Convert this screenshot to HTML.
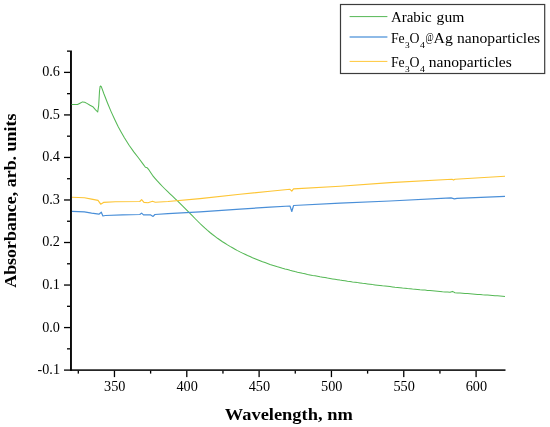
<!DOCTYPE html>
<html><head><meta charset="utf-8"><title>Absorbance spectra</title>
<style>
html,body{margin:0;padding:0;background:#fff;}
svg{display:block;}
text{font-family:"Liberation Serif","DejaVu Serif",serif;fill:#000;}
.tk{font-size:14.8px;}
.lg{font-size:14.5px;}
.sb{font-size:9.2px;}
.at{font-size:11.5px;}
.tt{font-size:15.8px;font-weight:bold;}
</style></head><body>
<svg width="550" height="427" viewBox="0 0 550 427">
<rect width="550" height="427" fill="#fff"/>
<rect x="70.05" y="50.5" width="1.85" height="320.3" fill="#000"/>
<rect x="70" y="369.35" width="435.5" height="1.5" fill="#000"/>
<rect x="64" y="369.45" width="6" height="1.3" fill="#000"/>
<text x="37.6" y="374.0" class="tk" textLength="22.4" lengthAdjust="spacingAndGlyphs">-0.1</text>
<rect x="67" y="348.19" width="3" height="1.3" fill="#000"/>
<rect x="64" y="326.92" width="6" height="1.3" fill="#000"/>
<text x="42.2" y="331.5" class="tk" textLength="17.8" lengthAdjust="spacingAndGlyphs">0.0</text>
<rect x="67" y="305.66" width="3" height="1.3" fill="#000"/>
<rect x="64" y="284.39" width="6" height="1.3" fill="#000"/>
<text x="42.2" y="288.9" class="tk" textLength="17.8" lengthAdjust="spacingAndGlyphs">0.1</text>
<rect x="67" y="263.13" width="3" height="1.3" fill="#000"/>
<rect x="64" y="241.86" width="6" height="1.3" fill="#000"/>
<text x="42.2" y="246.4" class="tk" textLength="17.8" lengthAdjust="spacingAndGlyphs">0.2</text>
<rect x="67" y="220.60" width="3" height="1.3" fill="#000"/>
<rect x="64" y="199.33" width="6" height="1.3" fill="#000"/>
<text x="42.2" y="203.9" class="tk" textLength="17.8" lengthAdjust="spacingAndGlyphs">0.3</text>
<rect x="67" y="178.07" width="3" height="1.3" fill="#000"/>
<rect x="64" y="156.80" width="6" height="1.3" fill="#000"/>
<text x="42.2" y="161.4" class="tk" textLength="17.8" lengthAdjust="spacingAndGlyphs">0.4</text>
<rect x="67" y="135.53" width="3" height="1.3" fill="#000"/>
<rect x="64" y="114.27" width="6" height="1.3" fill="#000"/>
<text x="42.2" y="118.8" class="tk" textLength="17.8" lengthAdjust="spacingAndGlyphs">0.5</text>
<rect x="67" y="93.01" width="3" height="1.3" fill="#000"/>
<rect x="64" y="71.74" width="6" height="1.3" fill="#000"/>
<text x="42.2" y="76.3" class="tk" textLength="17.8" lengthAdjust="spacingAndGlyphs">0.6</text>
<rect x="67" y="50.48" width="3" height="1.3" fill="#000"/>
<rect x="77.65" y="370.8" width="1.3" height="2.8" fill="#000"/>
<rect x="113.81" y="370.8" width="1.3" height="6.3" fill="#000"/>
<text x="104.1" y="391.25" class="tk" textLength="21.4" lengthAdjust="spacingAndGlyphs">350</text>
<rect x="149.97" y="370.8" width="1.3" height="2.8" fill="#000"/>
<rect x="186.14" y="370.8" width="1.3" height="6.3" fill="#000"/>
<text x="176.4" y="391.25" class="tk" textLength="21.4" lengthAdjust="spacingAndGlyphs">400</text>
<rect x="222.30" y="370.8" width="1.3" height="2.8" fill="#000"/>
<rect x="258.46" y="370.8" width="1.3" height="6.3" fill="#000"/>
<text x="248.7" y="391.25" class="tk" textLength="21.4" lengthAdjust="spacingAndGlyphs">450</text>
<rect x="294.62" y="370.8" width="1.3" height="2.8" fill="#000"/>
<rect x="330.79" y="370.8" width="1.3" height="6.3" fill="#000"/>
<text x="321.0" y="391.25" class="tk" textLength="21.4" lengthAdjust="spacingAndGlyphs">500</text>
<rect x="366.95" y="370.8" width="1.3" height="2.8" fill="#000"/>
<rect x="403.11" y="370.8" width="1.3" height="6.3" fill="#000"/>
<text x="393.4" y="391.25" class="tk" textLength="21.4" lengthAdjust="spacingAndGlyphs">550</text>
<rect x="439.28" y="370.8" width="1.3" height="2.8" fill="#000"/>
<rect x="475.44" y="370.8" width="1.3" height="6.3" fill="#000"/>
<text x="465.7" y="391.25" class="tk" textLength="21.4" lengthAdjust="spacingAndGlyphs">600</text>
<polyline points="71.6,104.5 77.5,104.5 80.0,103.2 82.5,101.9 84.7,102.3 86.9,103.4 90.0,105.3 92.8,106.7 95.6,109.8 97.7,112.0 98.7,105.3 99.5,91.2 100.1,86.5 100.7,86.0 101.3,86.6 104.0,94.0 107.6,103.2 111.1,111.6 114.6,119.3 118.1,126.6 120.8,131.5 124.4,137.8 129.1,145.3 133.8,151.9 138.4,157.8 143.1,164.1 145.4,167.2 147.2,167.8 148.8,169.7 152.5,175.3 155.0,178.3 157.5,181.2 160.0,183.9 162.5,186.5 165.0,189.0 167.5,191.4 170.0,193.8 172.5,196.2 175.0,198.6 177.5,200.9 180.0,203.4 182.5,205.8 185.0,208.3 187.5,210.8 190.0,213.4 192.5,215.9 195.0,218.5 197.5,221.0 200.0,223.5 202.5,225.9 205.0,228.2 207.5,230.4 210.0,232.5 212.5,234.5 215.0,236.4 217.5,238.3 220.0,240.0 222.5,241.7 225.0,243.3 227.5,244.9 230.0,246.4 232.5,247.8 235.0,249.2 237.5,250.6 240.0,251.9 242.5,253.1 245.0,254.3 247.5,255.5 250.0,256.6 252.5,257.7 255.0,258.7 257.5,259.7 260.0,260.7 262.5,261.7 265.0,262.6 267.5,263.5 270.0,264.4 272.5,265.2 275.0,266.0 277.5,266.8 280.0,267.5 282.5,268.3 285.0,269.0 287.5,269.6 290.0,270.3 292.5,270.9 295.0,271.6 297.5,272.2 300.0,272.7 302.5,273.3 305.0,273.8 307.5,274.4 310.0,274.9 312.5,275.4 315.0,275.8 317.5,276.3 320.0,276.8 322.5,277.2 325.0,277.6 327.5,278.1 330.0,278.5 332.5,278.9 335.0,279.3 337.5,279.7 340.0,280.1 342.5,280.4 345.0,280.8 347.5,281.2 350.0,281.5 352.5,281.9 355.0,282.2 357.5,282.6 360.0,282.9 362.5,283.3 365.0,283.6 367.5,283.9 370.0,284.2 372.5,284.6 375.0,284.9 377.5,285.2 380.0,285.5 382.5,285.8 385.0,286.0 387.5,286.3 390.0,286.6 392.5,286.9 395.0,287.2 397.5,287.4 400.0,287.7 402.5,288.0 405.0,288.2 407.5,288.5 410.0,288.7 412.5,289.0 415.0,289.2 417.5,289.4 420.0,289.7 422.5,289.9 425.0,290.1 427.5,290.4 430.0,290.6 432.5,290.8 435.0,291.0 437.5,291.2 440.0,291.4 442.5,291.7 445.0,291.9 447.5,292.1 450.0,292.3 452.5,291.4 455.0,292.7 457.5,292.9 460.0,293.1 462.5,293.3 465.0,293.5 467.5,293.6 470.0,293.8 472.5,294.0 475.0,294.2 477.5,294.4 480.0,294.6 482.5,294.8 485.0,294.9 487.5,295.1 490.0,295.3 492.5,295.5 495.0,295.7 497.5,295.8 500.0,296.0 502.5,296.2 505.0,296.4 505.0,296.4" fill="none" stroke="#55b855" stroke-width="1.05" stroke-linejoin="round"/>
<polyline points="72.0,211.3 84.4,211.8 91.6,213.1 98.9,214.2 101.3,212.2 102.9,216.0 105.3,215.5 122.5,214.9 139.8,214.5 141.6,213.1 143.5,214.9 150.7,214.9 153.1,216.4 154.9,214.5 168.0,213.6 200.0,211.8 240.0,209.2 270.0,207.1 290.0,206.0 291.8,211.5 293.6,205.5 340.0,203.2 390.0,201.0 451.0,197.9 454.4,198.9 457.0,198.3 505.0,196.3" fill="none" stroke="#4a8fd8" stroke-width="1.2" stroke-linejoin="round"/>
<polyline points="72.0,197.3 84.4,197.8 91.6,199.1 98.0,200.4 100.7,204.2 103.5,202.4 115.3,201.8 139.8,201.5 141.6,199.6 144.0,202.4 148.0,202.7 152.5,201.3 155.3,202.2 168.0,201.5 200.0,198.6 240.0,194.2 270.0,191.2 290.0,189.3 291.8,191.2 293.5,188.9 340.0,186.2 390.0,182.6 452.0,179.3 453.6,180.1 455.0,179.2 505.0,176.2" fill="none" stroke="#fdc535" stroke-width="1.15" stroke-linejoin="round"/>
<rect x="340.5" y="4.5" width="204.2" height="69" fill="#fff" stroke="#3c3c3c" stroke-width="1.2"/>
<line x1="349.6" x2="387.4" y1="16.6" y2="16.6" stroke="#55b855" stroke-width="1"/>
<line x1="349.6" x2="387.4" y1="37" y2="37" stroke="#69a3df" stroke-width="1.6"/>
<line x1="349.6" x2="387.4" y1="61.4" y2="61.4" stroke="#ffc83a" stroke-width="1"/>
<text><tspan x="390.9" y="21.9" class="lg" textLength="40.7" lengthAdjust="spacingAndGlyphs">Arabic</tspan> <tspan x="436.6" y="21.9" class="lg" textLength="27.7" lengthAdjust="spacingAndGlyphs">gum</tspan></text>
<text><tspan x="390.9" y="42.6" class="lg" textLength="13.7" lengthAdjust="spacingAndGlyphs">Fe</tspan><tspan x="404.9" y="47.800000000000004" class="sb" textLength="4.7" lengthAdjust="spacingAndGlyphs">3</tspan><tspan x="409.6" y="42.6" class="lg" textLength="10.0" lengthAdjust="spacingAndGlyphs">O</tspan><tspan x="419.9" y="47.800000000000004" class="sb" textLength="4.9" lengthAdjust="spacingAndGlyphs">4</tspan><tspan x="425.4" y="41.0" class="at" textLength="8.2" lengthAdjust="spacingAndGlyphs">@</tspan><tspan x="433.6" y="42.6" class="lg" textLength="19.3" lengthAdjust="spacingAndGlyphs">Ag</tspan> <tspan x="457.0" y="42.6" class="lg" textLength="83.2" lengthAdjust="spacingAndGlyphs">nanoparticles</tspan></text>
<text><tspan x="390.9" y="66.8" class="lg" textLength="13.7" lengthAdjust="spacingAndGlyphs">Fe</tspan><tspan x="404.9" y="72.0" class="sb" textLength="4.7" lengthAdjust="spacingAndGlyphs">3</tspan><tspan x="409.6" y="66.8" class="lg" textLength="10.0" lengthAdjust="spacingAndGlyphs">O</tspan><tspan x="419.9" y="72.0" class="sb" textLength="4.9" lengthAdjust="spacingAndGlyphs">4</tspan> <tspan x="428.7" y="66.8" class="lg" textLength="83.2" lengthAdjust="spacingAndGlyphs">nanoparticles</tspan></text>
<text x="224.8" y="419.9" class="tt" textLength="128" lengthAdjust="spacingAndGlyphs">Wavelength, nm</text>
<text transform="translate(15.8,287.8) rotate(-90)" class="tt" textLength="174.2" lengthAdjust="spacingAndGlyphs">Absorbance, arb. units</text>
</svg>
</body></html>
